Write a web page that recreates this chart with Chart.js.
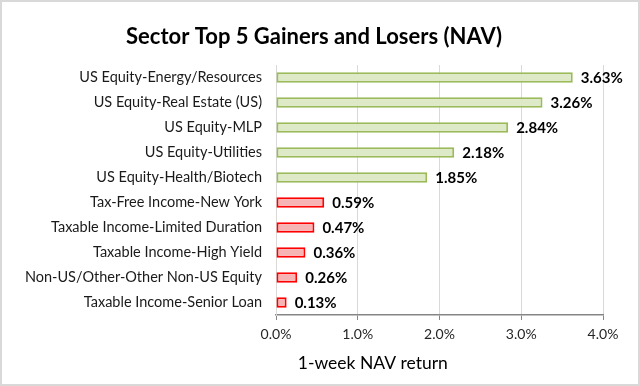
<!DOCTYPE html>
<html>
<head>
<meta charset="utf-8">
<script src="https://cdn.jsdelivr.net/npm/chart.js@4/dist/chart.umd.min.js"></script>
<style>
html,body{margin:0;padding:0;background:#fff;}
#wrap{width:640px;height:386px;position:relative;}
</style>
</head>
<body>
<div id="wrap"><canvas id="c" width="640" height="386"></canvas></div>
<script>
const chartTitle = 'Sector Top 5 Gainers and Losers (NAV)';
const axisTitle = '1-week NAV return';
const categories = [
  'US Equity-Energy/Resources',
  'US Equity-Real Estate (US)',
  'US Equity-MLP',
  'US Equity-Utilities',
  'US Equity-Health/Biotech',
  'Tax-Free Income-New York',
  'Taxable Income-Limited Duration',
  'Taxable Income-High Yield',
  'Non-US/Other-Other Non-US Equity',
  'Taxable Income-Senior Loan'
];
const returns = [3.63, 3.26, 2.84, 2.18, 1.85, 0.59, 0.47, 0.36, 0.26, 0.13];
const isGainer = [true, true, true, true, true, false, false, false, false, false];
const xTicks = [0, 1, 2, 3, 4];

const FONT = 'Lato, "Open Sans", sans-serif';

function barFill(ctx) {
  const g = isGainer[ctx.dataIndex];
  const el = ctx.element;
  const chart = ctx.chart;
  if (el && typeof el.y === 'number' && el.height) {
    const h = el.height;
    const grd = chart.ctx.createLinearGradient(0, el.y - h / 2, 0, el.y + h / 2);
    if (g) { grd.addColorStop(0, '#f1f6e6'); grd.addColorStop(1, '#d3e3b5'); }
    else { grd.addColorStop(0, '#fbd4d4'); grd.addColorStop(1, '#f49c9c'); }
    return grd;
  }
  return g ? '#dde9c7' : '#f7b4b4';
}

const framePlugin = {
  id: 'frame',
  beforeDraw(chart) {
    const c = chart.ctx;
    c.save();
    c.fillStyle = '#fff';
    c.fillRect(0, 0, chart.width, chart.height);
    c.restore();
  },
  afterDraw(chart) {
    const c = chart.ctx;
    c.save();
    c.strokeStyle = '#d9d9d9';
    c.lineWidth = 2;
    c.strokeRect(1, 1, chart.width - 2, chart.height - 2);
    // title
    c.fillStyle = '#000';
    c.font = 'bold 22px ' + FONT;
    c.textAlign = 'center';
    c.textBaseline = 'alphabetic';
    c.fillText(chartTitle, 314, 44);
    // axis title
    const xs = chart.scales.x;
    c.font = '17.5px ' + FONT;
    c.fillStyle = '#000';
    c.textBaseline = 'middle';
    c.fillText(axisTitle, xs.left + xs.width * 0.296, 363);
    // data labels
    const meta = chart.getDatasetMeta(0);
    c.font = 'bold 15px ' + FONT;
    c.textAlign = 'left';
    c.fillStyle = '#000';
    meta.data.forEach((bar, i) => {
      c.fillText(returns[i].toFixed(2) + '%', bar.x + 8, bar.y + 1);
    });
    c.restore();
  }
};

new Chart(document.getElementById('c'), {
  type: 'bar',
  data: {
    labels: categories,
    datasets: [{
      data: returns,
      backgroundColor: barFill,
      borderColor: returns.map((v, i) => isGainer[i] ? '#9bbb59' : '#ff0000'),
      borderWidth: 2,
      borderSkipped: false,
      barPercentage: 0.42,
      categoryPercentage: 1.0
    }]
  },
  plugins: [framePlugin],
  options: {
    indexAxis: 'y',
    responsive: false,
    animation: false,
    devicePixelRatio: 1,
    layout: { padding: { top: 65, right: 37, left: 0, bottom: 0 } },
    plugins: { legend: { display: false }, title: { display: false }, tooltip: { enabled: false } },
    scales: {
      x: {
        min: 0, max: 4,
        afterBuildTicks(scale) { scale.ticks = xTicks.map(v => ({ value: v })); },
        afterFit(scale) { scale.height = 71; },
        ticks: {
          color: '#262626',
          font: { family: FONT, size: 14 },
          padding: 6,
          callback: v => Number(v).toFixed(1) + '%'
        },
        grid: { color: '#d9d9d9', lineWidth: 1, tickLength: 5, tickColor: '#868686', drawOnChartArea: true },
        border: { color: '#868686', width: 1.5 }
      },
      y: {
        afterFit(scale) { scale.width = 276; },
        ticks: {
          color: '#1a1a1a',
          font: { family: FONT, size: 14.5 },
          padding: 14
        },
        grid: { display: false, drawTicks: false },
        border: { color: '#d9d9d9', width: 1 }
      }
    }
  }
});
</script>
</body>
</html>
